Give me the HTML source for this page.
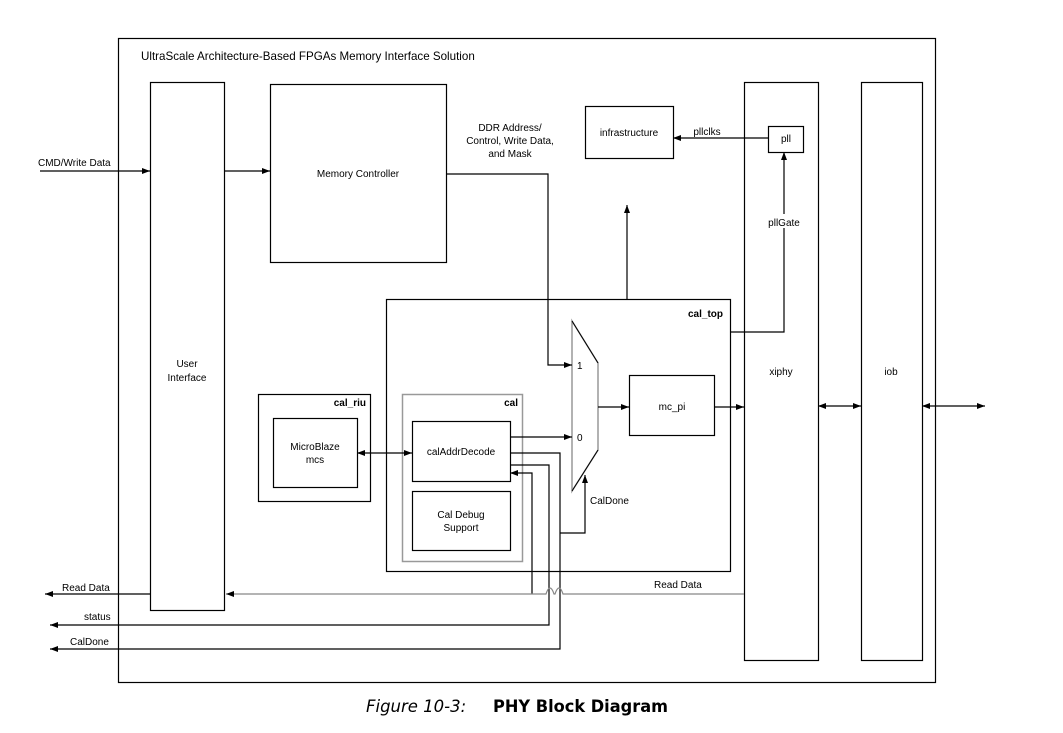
<!DOCTYPE html>
<html><head><meta charset="utf-8"><style>body{margin:0;background:#fff}svg{display:block}</style></head><body>
<svg width="1063" height="733" viewBox="0 0 1063 733" xmlns="http://www.w3.org/2000/svg" font-family="Liberation Sans, sans-serif" font-size="10" fill="none" stroke="#000" stroke-width="1.2">
<defs>
<marker id="a" markerWidth="8" markerHeight="6" refX="8" refY="3" orient="auto" markerUnits="userSpaceOnUse"><path d="M0,0 L8,3 L0,6z" fill="#000" stroke="none"/></marker>
<marker id="s" markerWidth="8" markerHeight="6" refX="0" refY="3" orient="auto" markerUnits="userSpaceOnUse"><path d="M8,0 L0,3 L8,6z" fill="#000" stroke="none"/></marker>
</defs>
<rect x="118.5" y="38.5" width="817" height="644"/>
<rect x="150.5" y="82.5" width="74" height="528"/>
<rect x="270.5" y="84.5" width="176" height="178"/>
<rect x="585.5" y="106.5" width="88" height="52"/>
<rect x="768.5" y="126.5" width="35" height="26"/>
<rect x="744.5" y="82.5" width="74" height="578"/>
<rect x="861.5" y="82.5" width="61" height="578"/>
<rect x="386.5" y="299.5" width="344" height="272"/>
<rect x="258.5" y="394.5" width="112" height="107"/>
<rect x="273.5" y="418.5" width="84" height="69"/>
<rect x="402.5" y="394.5" width="120" height="167" stroke="#999" stroke-width="1.5"/>
<rect x="412.5" y="421.5" width="98" height="60"/>
<rect x="412.5" y="491.5" width="98" height="59"/>
<rect x="629.5" y="375.5" width="85" height="60"/>
<path d="M572,321 L598,363 L598,450 L572,491 Z" stroke="#999" stroke-width="1.5"/>
<path d="M572,321 L598,363 M598,450 L572,491" stroke="#000" stroke-width="1"/>
<path d="M40,171 H150" marker-end="url(#a)"/>
<path d="M224,171 H270" marker-end="url(#a)"/>
<path d="M446,174 H548 V365 H572" marker-end="url(#a)"/>
<path d="M627,299 V205" marker-end="url(#a)"/>
<path d="M768,138 H673" marker-end="url(#a)"/>
<path d="M730,332 H784 V152" marker-end="url(#a)"/>
<path d="M598,407 H629" marker-end="url(#a)"/>
<path d="M714,407 H744" marker-end="url(#a)"/>
<path d="M818,406 H861" marker-start="url(#s)" marker-end="url(#a)"/>
<path d="M922,406 H985" marker-start="url(#s)" marker-end="url(#a)"/>
<path d="M357,453 H412" marker-start="url(#s)" marker-end="url(#a)"/>
<path d="M510,437 H572" marker-end="url(#a)"/>
<path d="M510,453 H560 V649 H50" marker-end="url(#a)"/>
<path d="M560,533 H585 V475" marker-end="url(#a)"/>
<path d="M510,465 H549 V625 H50" marker-end="url(#a)"/>
<path d="M532,594 V473 H510" marker-end="url(#a)"/>
<path d="M744,594 H563 q-2,-6 -4,-6 t-4,6 H554 q-2,-6 -4,-6 t-4,6 H226" stroke="#888" marker-end="url(#a)"/>
<path d="M150,594 H45" marker-end="url(#a)"/>
<rect x="764" y="214" width="40" height="14" fill="#fff" stroke="none"/>
<g fill="#000" stroke="none">
<text x="141" y="60" font-size="11.6">UltraScale Architecture-Based FPGAs Memory Interface Solution</text>
<text x="38" y="166">CMD/Write Data</text>
<text x="358" y="177" text-anchor="middle">Memory Controller</text>
<text x="510" y="131" text-anchor="middle">DDR Address/</text>
<text x="510" y="144" text-anchor="middle">Control, Write Data,</text>
<text x="510" y="157" text-anchor="middle">and Mask</text>
<text x="629" y="136" text-anchor="middle">infrastructure</text>
<text x="707" y="135" text-anchor="middle">pllclks</text>
<text x="786" y="142" text-anchor="middle">pll</text>
<text x="784" y="226" text-anchor="middle">pllGate</text>
<text x="187" y="367" text-anchor="middle">User</text>
<text x="187" y="381" text-anchor="middle">Interface</text>
<text x="781" y="375" text-anchor="middle">xiphy</text>
<text x="891" y="375" text-anchor="middle">iob</text>
<text x="723" y="317" text-anchor="end" font-weight="bold">cal_top</text>
<text x="366" y="406" text-anchor="end" font-weight="bold">cal_riu</text>
<text x="518" y="406" text-anchor="end" font-weight="bold">cal</text>
<text x="315" y="450" text-anchor="middle">MicroBlaze</text>
<text x="315" y="463" text-anchor="middle">mcs</text>
<text x="461" y="455" text-anchor="middle">calAddrDecode</text>
<text x="461" y="518" text-anchor="middle">Cal Debug</text>
<text x="461" y="531" text-anchor="middle">Support</text>
<text x="672" y="410" text-anchor="middle">mc_pi</text>
<text x="577" y="369">1</text>
<text x="577" y="441">0</text>
<text x="590" y="504">CalDone</text>
<text x="654" y="588">Read Data</text>
<text x="62" y="591">Read Data</text>
<text x="84" y="620">status</text>
<text x="70" y="645">CalDone</text>
<text x="366" y="712" font-size="16.5" font-style="italic" font-family="DejaVu Sans, sans-serif">Figure 10-3:</text>
<text x="493" y="712" font-size="16.5" font-weight="bold" font-family="DejaVu Sans, sans-serif" textLength="175" lengthAdjust="spacingAndGlyphs">PHY Block Diagram</text>
</g>
</svg>
</body></html>
